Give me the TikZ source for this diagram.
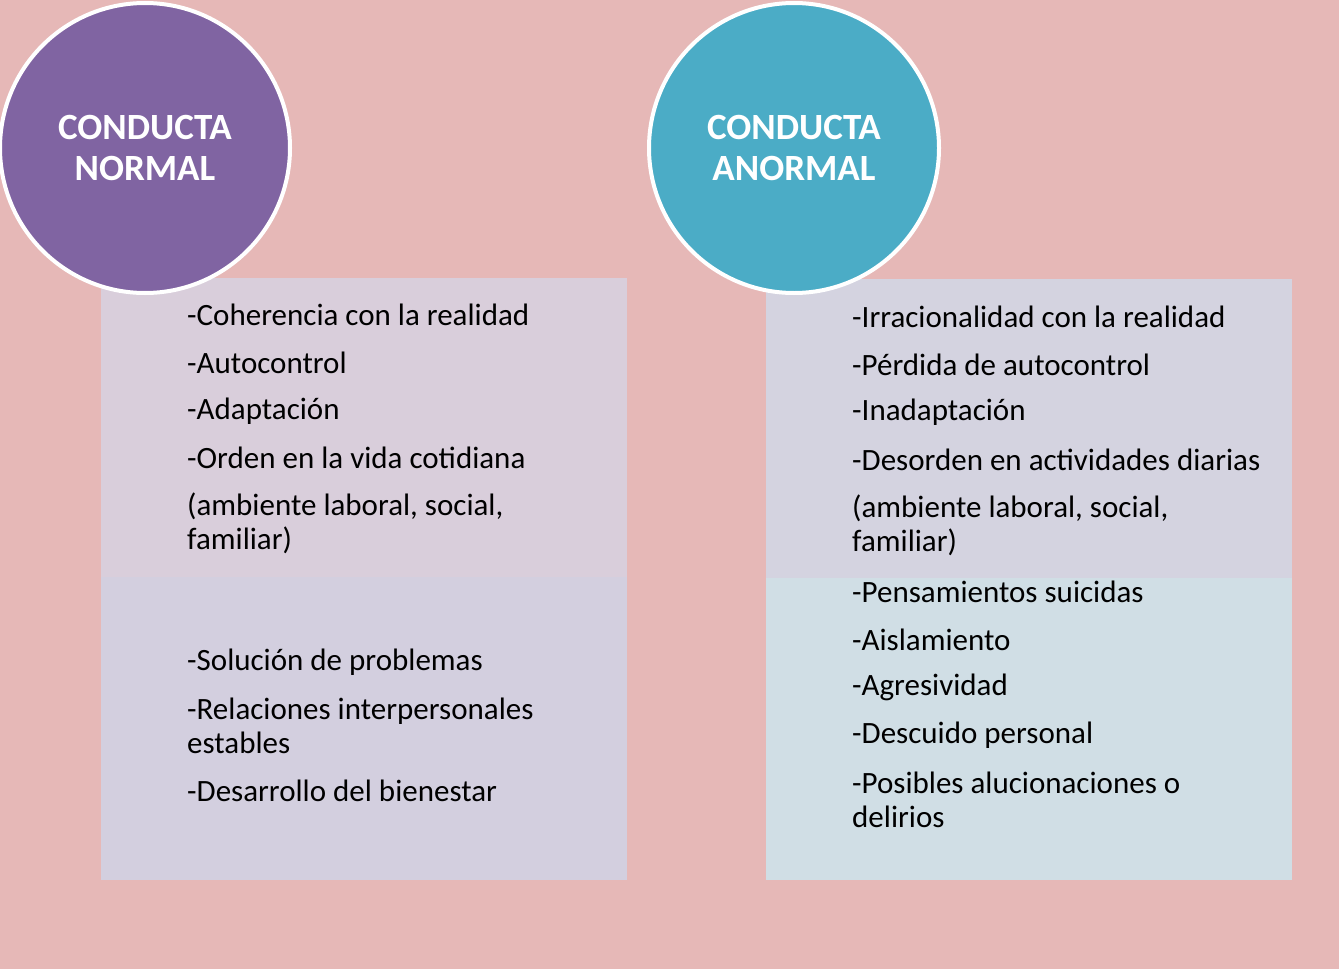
\documentclass[tikz,border=0pt]{standalone}
\usepackage{fontspec}
\setmainfont{Carlito}
\definecolor{bg}{HTML}{E6B8B7}
\definecolor{purp}{HTML}{8064A2}
\definecolor{teal}{HTML}{4BACC6}
\definecolor{lt}{HTML}{D9CEDB}
\definecolor{lb}{HTML}{D3CFDF}
\definecolor{rt}{HTML}{D4D3E0}
\definecolor{rb}{HTML}{D0DEE5}
\begin{document}
\begin{tikzpicture}[x=1pt,y=-1pt,
  ttl/.style={circle,draw=white,line width=4pt,minimum size=290pt,text=white,font=\fontsize{37}{41}\selectfont\bfseries,align=center},
  itm/.style={anchor=west,inner sep=0pt,font=\fontsize{31}{34}\selectfont,align=left,text=black}]
\fill[bg] (0,0) rectangle (1339,969);
\useasboundingbox (0,0) rectangle (1339,969);
\fill[lt] (101,278) rectangle (627,577);
\fill[lb] (101,577) rectangle (627,880);
\fill[rt] (766,279) rectangle (1292,578);
\fill[rb] (766,578) rectangle (1292,880);
\node[ttl,fill=purp] (cn) at (145,148) {CONDUCTA\\NORMAL};
\node[ttl,fill=teal] (ca) at (794,148) {CONDUCTA\\ANORMAL};
\node[itm] (l1) at (187,315) {-Coherencia con la realidad};
\node[itm] (l2) at (187,363) {-Autocontrol};
\node[itm] (l3) at (187,411) {-Adaptación};
\node[itm] (l4) at (187,458) {-Orden en la vida cotidiana};
\node[itm] (l5) at (187,523) {(ambiente laboral, social,\\familiar)};
\node[itm] (l6) at (187,662) {-Solución de problemas};
\node[itm] (l7) at (187,726) {-Relaciones interpersonales\\estables};
\node[itm] (l8) at (187,791) {-Desarrollo del bienestar};
\node[itm] (r1) at (852,317) {-Irracionalidad con la realidad};
\node[itm] (r2) at (852,365) {-Pérdida de autocontrol};
\node[itm] (r3) at (852,412) {-Inadaptación};
\node[itm] (r4) at (852,460) {-Desorden en actividades diarias};
\node[itm] (r5) at (852,525) {(ambiente laboral, social,\\familiar)};
\node[itm] (r6) at (852,592) {-Pensamientos suicidas};
\node[itm] (r7) at (852,640) {-Aislamiento};
\node[itm] (r8) at (852,687) {-Agresividad};
\node[itm] (r9) at (852,735) {-Descuido personal};
\node[itm] (r10) at (852,800) {-Posibles alucionaciones o\\delirios};
\end{tikzpicture}
\end{document}
